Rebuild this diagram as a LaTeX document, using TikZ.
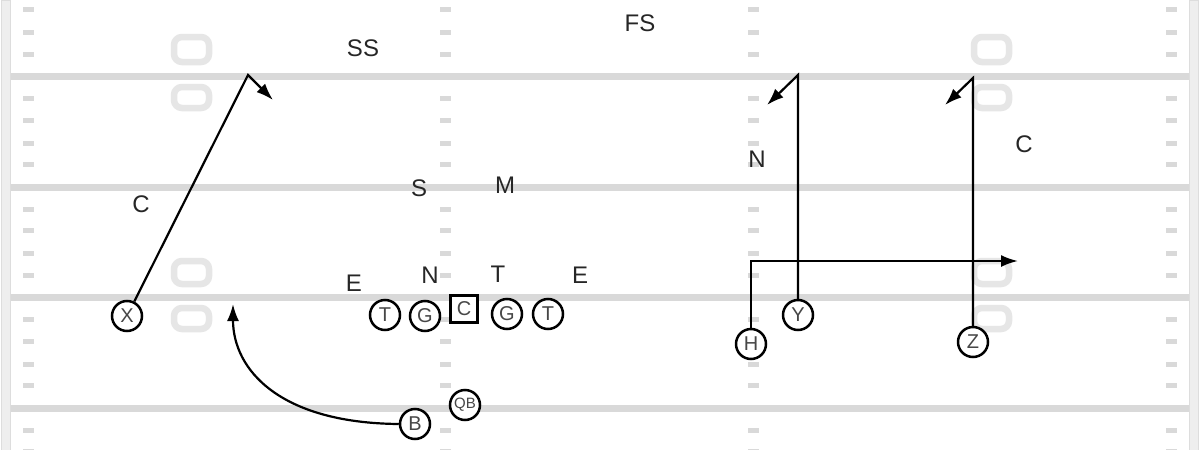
\documentclass[tikz,border=0pt]{standalone}
\usepackage{fontspec}
\setmainfont{Liberation Sans}
\usetikzlibrary{arrows.meta}
\definecolor{fieldline}{HTML}{D9D9D9}
\definecolor{yardnum}{HTML}{E6E6E6}
\definecolor{sideline}{HTML}{EEEEEE}
\definecolor{sideedge}{HTML}{DDDDDD}
\begin{document}
\begin{tikzpicture}[x=1pt,y=-1pt,
  player/.style={circle,draw=black,line width=2.5pt,fill=white,minimum size=30pt,inner sep=0pt,font=\fontsize{20}{20}\selectfont,text=black!72},
  cbox/.style={rectangle,draw=black,line width=2.5pt,fill=white,minimum size=27pt,inner sep=0pt,font=\fontsize{20}{20}\selectfont,text=black!72},
  qbstyle/.style={player,font=\fontsize{15}{15}\selectfont},
  deflabel/.style={font=\fontsize{24}{24}\selectfont,text=black!85,inner sep=0pt},
  route/.style={draw=black,line width=2.2pt},
  tip/.style={-{Latex[length=17pt,width=12pt]}},
  hashmark/.style={fill=fieldline,draw=none},
  yardzero/.style={draw=yardnum,line width=6.5pt,rounded corners=8pt},
  fline/.style={fill=fieldline,draw=none},
  sidebar/.style={fill=sideline,draw=sideedge,line width=0.6pt}
]
\useasboundingbox (0,0) rectangle (1200,450);
\fill[white] (0,0) rectangle (1200,450);
% side bars
\draw[sidebar] (1.5,0) rectangle (10.5,450);
\draw[sidebar] (1189.5,0) rectangle (1198.5,450);
% yard lines
\foreach \L in {76.5,187,297.5,408}{
  \fill[fline] (11,\L-3.5) rectangle (1189,\L+3.5);
}
% hash marks
\foreach \L in {-34,76.5,187,297.5,408}{
  \foreach \o in {22,43.5,66.5,88}{
    \foreach \hx in {23,440,748,1166}{
      \fill[hashmark] (\hx,\L+\o-2.5) rectangle (\hx+11,\L+\o+2.5);
    }
  }
}
% yard number zeros
\foreach \zx in {174,974}{
  \draw[yardzero] (\zx,37) rectangle (\zx+35,62);
  \draw[yardzero] (\zx,87) rectangle (\zx+35,108);
  \draw[yardzero] (\zx,261) rectangle (\zx+35,284);
  \draw[yardzero] (\zx,308) rectangle (\zx+35,329);
}
% offense
\node[player] (X) at (127,316) {X};
\node[player] (T1) at (385,315) {T};
\node[player] (G1) at (425,316) {G};
\node[cbox] (C) at (464,309) {C};
\node[player] (G2) at (507,314) {G};
\node[player] (T2) at (548,314) {T};
\node[qbstyle] (QB) at (465,405) {QB};
\node[player] (B) at (415,424) {B};
\node[player] (H) at (751,344) {H};
\node[player] (Y) at (798,315) {Y};
\node[player] (Z) at (973,342) {Z};
% route points
\coordinate (xc) at (248,75);
\coordinate (xe) at (273,100);
\coordinate (be) at (233,304);
\coordinate (yc) at (798,75);
\coordinate (ye) at (767,105);
\coordinate (zc) at (973,78);
\coordinate (ze) at (945,105);
\coordinate (hc) at (751,261);
\coordinate (he) at (1018,261);
% routes
\draw[route,tip,line join=miter] (X) -- (xc) -- (xe);
\draw[route,tip] (B.west) .. controls (280,423) and (233,370) .. (be);
\draw[route,tip,line join=miter] (Y) -- (yc) -- (ye);
\draw[route,tip,line join=miter] (Z) -- (zc) -- (ze);
\draw[route,tip,line join=miter] (H) -- (hc) -- (he);
% defense
\node[deflabel] (SS) at (363,48) {SS};
\node[deflabel] (FS) at (640,23) {FS};
\node[deflabel] (CL) at (141,204) {C};
\node[deflabel] (SL) at (419,188) {S};
\node[deflabel] (ML) at (505,185) {M};
\node[deflabel] (EL) at (354,283) {E};
\node[deflabel] (NL) at (430,275) {N};
\node[deflabel] (TL) at (498,274) {T};
\node[deflabel] (ER) at (580,275) {E};
\node[deflabel] (NR) at (757,159) {N};
\node[deflabel] (CR) at (1024,144) {C};
\end{tikzpicture}
\end{document}
